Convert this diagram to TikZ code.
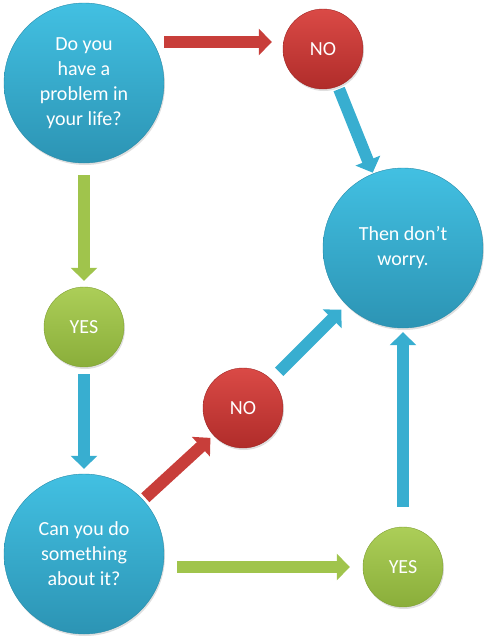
\documentclass[tikz,border=0pt]{standalone}
\usepackage{xcolor}
\usepackage{fontspec}
\setmainfont{Carlito}
\usepackage{tikz}
\usetikzlibrary{shapes, arrows.meta, positioning, calc, shadows}

\definecolor{bluetop}{RGB}{66,192,226}
\definecolor{bluebot}{RGB}{44,148,180}
\definecolor{blueedge}{RGB}{40,140,170}
\definecolor{redtop}{RGB}{218,74,70}
\definecolor{redbot}{RGB}{176,44,42}
\definecolor{rededge}{RGB}{160,40,38}
\definecolor{greentop}{RGB}{172,206,88}
\definecolor{greenbot}{RGB}{138,174,58}
\definecolor{greenedge}{RGB}{128,160,52}
\definecolor{bluearr}{RGB}{56,174,208}
\definecolor{redarr}{RGB}{200,62,58}
\definecolor{greenarr}{RGB}{160,196,76}

\begin{document}
\begin{tikzpicture}[x=1pt, y=1pt,
    bubble/.style={circle, inner sep=0pt, align=center, text=white, font=\fontsize{20}{25}\selectfont,
        drop shadow={opacity=0.25, shadow xshift=1pt, shadow yshift=-2pt}},
    big/.style={bubble, minimum size=160pt, draw=blueedge, top color=bluetop, bottom color=bluebot},
    nobox/.style={bubble, minimum size=80pt, draw=rededge, top color=redtop, bottom color=redbot},
    yesbox/.style={bubble, minimum size=80pt, draw=greenedge, top color=greentop, bottom color=greenbot},
    arrow/.style={line width=12pt, -{Triangle[length=13pt, width=26pt]}}
]
    \useasboundingbox (0,0) rectangle (488,-640);

    \node [big] (problem) at (84,-83) {Do you\\have a\\problem in\\your life?};
    \node [nobox] (no1) at (323,-49) {NO};
    \node [big] (worry) at (403,-248) {Then don’t\\worry.};
    \node [yesbox] (yes1) at (84,-327) {YES};
    \node [nobox] (no2) at (243,-408) {NO};
    \node [big] (cando) at (84,-554) {Can you do\\something\\about it?};
    \node [yesbox] (yes2) at (403,-567) {YES};

    \draw [arrow, redarr] ([yshift=7pt]problem.east |- no1.west) -- ([xshift=-11pt, yshift=7pt]no1.west);
    \draw [arrow, bluearr, shorten <=3pt, shorten >=1pt] (no1) -- (worry);
    \draw [arrow, greenarr, shorten <=12pt, shorten >=6pt] (problem) -- (yes1);
    \draw [arrow, bluearr, shorten <=7pt, shorten >=5pt] (yes1) -- (cando);
    \draw [arrow, redarr, shorten <=3pt, shorten >=4pt] (cando) -- (no2);
    \draw [arrow, bluearr, shorten <=11pt, shorten >=7pt] (no2) -- (worry);
    \draw [arrow, greenarr] ([xshift=13pt]cando.east |- yes2.west) -- ([xshift=-13pt]yes2.west);
    \draw [arrow, bluearr, shorten <=20pt, shorten >=4pt] (yes2) -- (worry);
\end{tikzpicture}
\end{document}
